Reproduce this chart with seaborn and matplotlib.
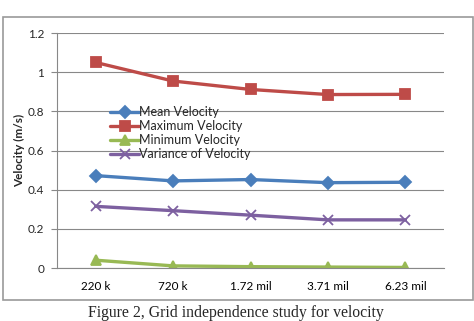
import matplotlib
matplotlib.use("Agg")
import matplotlib.pyplot as plt
import seaborn as sns
import pandas as pd
from matplotlib.patches import Rectangle

# Mesh sizes and velocity statistics
mesh = ["220 k", "720 k", "1.72 mil", "3.71 mil", "6.23 mil"]
mean_vel = [0.472, 0.445, 0.452, 0.436, 0.438]
max_vel = [1.050, 0.955, 0.912, 0.886, 0.887]
min_vel = [0.040, 0.011, 0.007, 0.005, 0.003]
var_vel = [0.315, 0.293, 0.270, 0.246, 0.246]
series_names = ["Mean Velocity", "Maximum Velocity", "Minimum Velocity", "Variance of Velocity"]
yticks = [0, 0.2, 0.4, 0.6, 0.8, 1, 1.2]
ytick_labels = ["0", "0.2", "0.4", "0.6", "0.8", "1", "1.2"]

df = pd.DataFrame({
    "mesh": mesh * 4,
    "value": mean_vel + max_vel + min_vel + var_vel,
    "series": sum([[s] * len(mesh) for s in series_names], []),
})
df["pos"] = df["mesh"].map({m: i for i, m in enumerate(mesh)})

sns.set_style("white")
plt.rcParams["font.family"] = ["Lato", "DejaVu Sans"]

fig = plt.figure(figsize=(4.74, 3.21), dpi=100)
ax = fig.add_axes([0.120, 0.165, 0.817, 0.732])

palette = {
    "Mean Velocity": "#4A7EBB",
    "Maximum Velocity": "#BE4B48",
    "Minimum Velocity": "#98B954",
    "Variance of Velocity": "#7D60A0",
}
markers = {
    "Mean Velocity": "D",
    "Maximum Velocity": "s",
    "Minimum Velocity": "^",
    "Variance of Velocity": "x",
}
msizes = {"Mean Velocity": 6, "Maximum Velocity": 7.5,
          "Minimum Velocity": 7.5, "Variance of Velocity": 7.5}

for name in series_names:
    sub = df[df["series"] == name]
    sns.lineplot(data=sub, x="pos", y="value", ax=ax, color=palette[name],
                 marker=markers[name], markersize=msizes[name],
                 markeredgecolor=palette[name], markeredgewidth=1.3,
                 linewidth=2.4, label=name, legend=False)

ax.set_xlim(-0.5, len(mesh) - 0.5)
ax.set_ylim(0, 1.2)
ax.set_yticks(yticks)
ax.set_yticklabels(ytick_labels)
ax.set_xticks(range(len(mesh)))
ax.set_xticklabels(mesh)
ax.set_xticks([i - 0.5 for i in range(len(mesh) + 1)], minor=True)
ax.tick_params(axis="x", which="major", length=0, labelsize=8.5, pad=9, colors="#000000")
ax.tick_params(axis="x", which="minor", length=3, direction="in", color="#888888", width=0.8)
ax.tick_params(axis="y", which="major", length=4, direction="out", labelsize=8.5,
               color="#888888", width=0.8, pad=5, left=True)
ax.yaxis.grid(True, color="#888888", linewidth=0.8)
ax.set_axisbelow(True)

for side in ["top", "right"]:
    ax.spines[side].set_visible(False)
for side in ["left", "bottom"]:
    ax.spines[side].set_color("#888888")
    ax.spines[side].set_linewidth(0.8)

ax.set_xlabel("")
ax.set_ylabel("Velocity (m/s)", fontsize=8.5, fontweight="bold", labelpad=2)

handles, labels = ax.get_legend_handles_labels()
leg = ax.legend(handles, labels, loc="upper left", bbox_to_anchor=(0.138, 0.69),
                frameon=False, fontsize=9, handlelength=2.3, handletextpad=0.0,
                labelspacing=0.17, borderaxespad=0, borderpad=0)

# Chart area border
fig.patches.append(Rectangle((0.006, 0.065), 0.991, 0.882, transform=fig.transFigure,
                             fill=False, edgecolor="#9a9a9a", linewidth=1.2))

fig.text(0.498, 0.026, "Figure 2, Grid independence study for velocity",
         ha="center", va="center", fontsize=11.3, family="Liberation Serif")

fig.savefig("out.png", dpi=100)
